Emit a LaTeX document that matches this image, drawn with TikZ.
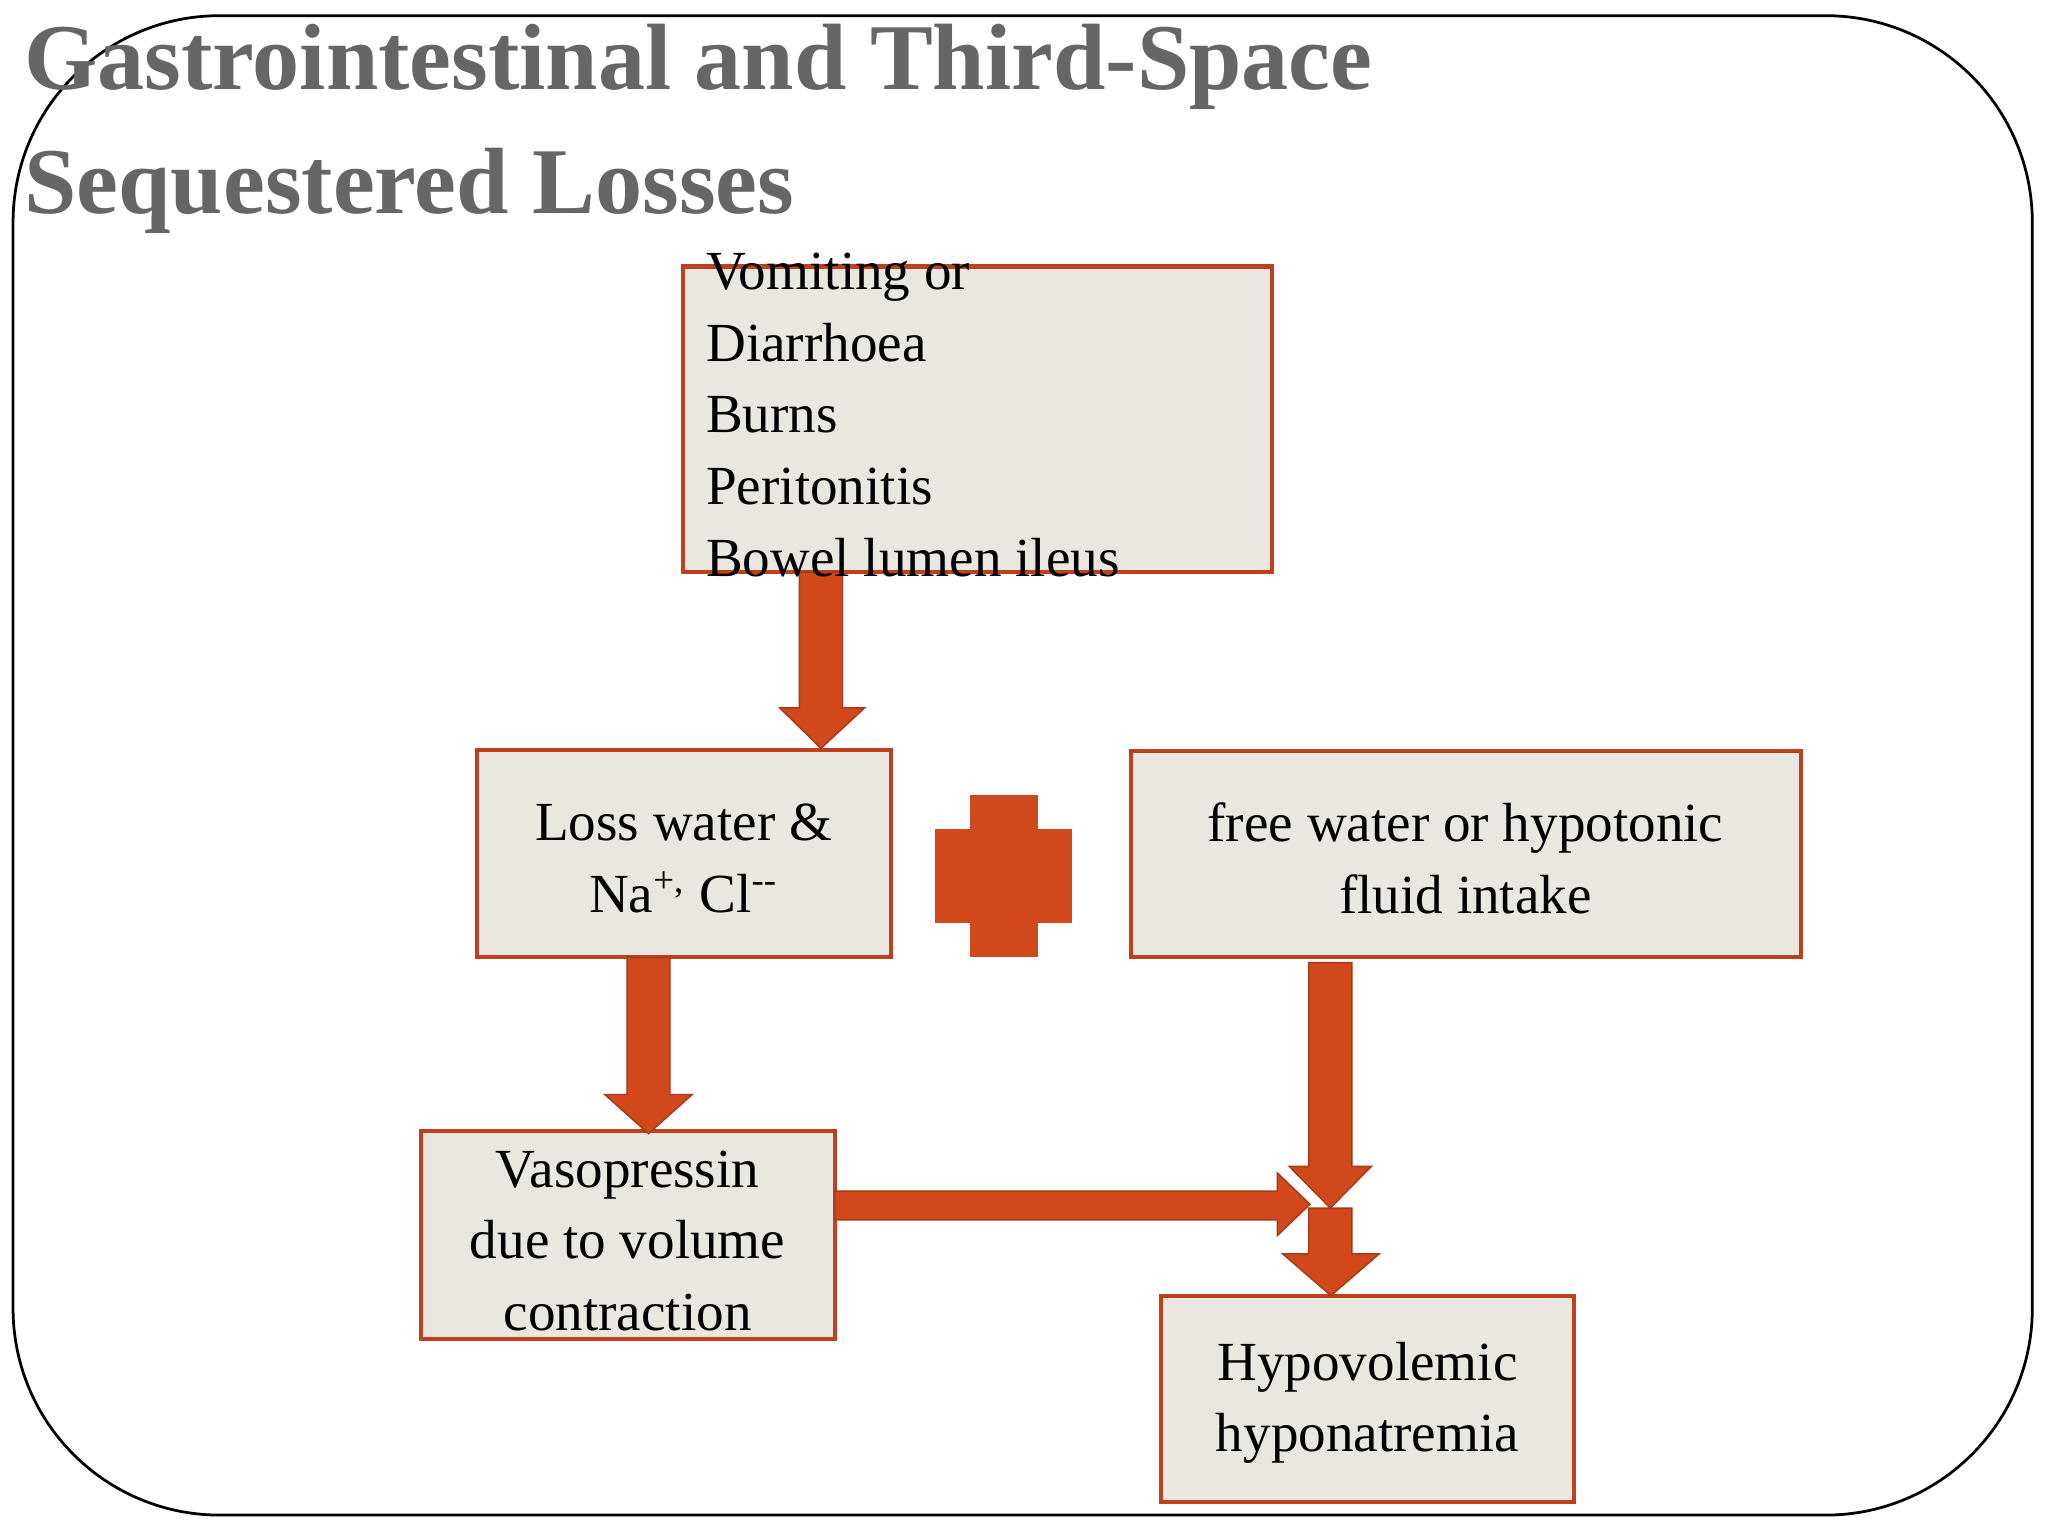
\documentclass[tikz,border=0pt]{standalone}
\usepackage{fontspec}
\setmainfont{Liberation Serif}
\begin{document}
\begin{tikzpicture}[x=0.01cm,y=-0.01cm,
  box/.style={draw=boxline,fill=boxfill,line width=0.9pt,inner sep=0pt},
  txt/.style={font=\fontsize{12}{15.6}\selectfont,align=center},
  barrow/.style={fill=arrowc,draw=arrowc!80!black,line width=0.3pt}]
\definecolor{boxline}{HTML}{C0401E}
\definecolor{boxfill}{HTML}{EAE6E0}
\definecolor{arrowc}{HTML}{D0481C}
\definecolor{titlec}{HTML}{666666}
\useasboundingbox (0,0) rectangle (1568,1176);
\fill[white] (0,0) rectangle (1568,1176);
\draw[line width=0.6pt,rounded corners=45] (10,12) rectangle (1556,1160);
\node[anchor=north west,inner sep=0pt,text=titlec,font=\fontsize{20.5}{27}\selectfont\bfseries,align=left] (title) at (18,18) {Gastrointestinal and Third-Space\\Sequestered Losses};
% boxes
\draw[box] (523,204) rectangle (974,438);
\node[box,draw=none,fill=none,minimum width=0pt] (b1) at (748,321) {};
\draw[box] (365,574) rectangle (682,733);
\draw[box] (866,575) rectangle (1379,733);
\draw[box] (322,866) rectangle (639,1025);
\draw[box] (889,992) rectangle (1205,1150);
% plus
\fill[arrowc] (743,609) rectangle (795,733);
\fill[arrowc] (716,635) rectangle (821,707);
% arrows
\draw[barrow] (612,438) -- (645,438) -- (645,542) -- (662,542) -- (628.5,573) -- (597,542) -- (612,542) -- cycle;
\draw[barrow] (480,733) -- (513,733) -- (513,838) -- (530,838) -- (496.5,868) -- (463,838) -- (480,838) -- cycle;
\draw[barrow] (639,912) -- (978,912) -- (978,898) -- (1003,922) -- (978,946) -- (978,934) -- (639,934) -- cycle;
\draw[barrow] (1002,737) -- (1035,737) -- (1035,893) -- (1050,893) -- (1018.5,925) -- (987,893) -- (1002,893) -- cycle;
\draw[barrow] (1002,925) -- (1035,925) -- (1035,960) -- (1056,960) -- (1019,992) -- (982,960) -- (1002,960) -- cycle;
% texts
\node[txt,anchor=north west,align=left,inner sep=0pt,font=\fontsize{12}{15.6}\selectfont] (t1) at (540,193) {Vomiting or\\Diarrhoea\\Burns\\Peritonitis\\Bowel lumen ileus};
\node[txt] (t2) at (523.5,657) {Loss water \&\\Na\textsuperscript{+,} Cl\textsuperscript{-{}-}};
\node[txt] (t3) at (1122,657) {free water or hypotonic\\fluid intake};
\node[txt] (t4) at (480.5,950) {Vasopressin\\due to volume\\contraction};
\node[txt] (t5) at (1047,1074) {Hypovolemic\\hyponatremia};
\end{tikzpicture}
\end{document}
